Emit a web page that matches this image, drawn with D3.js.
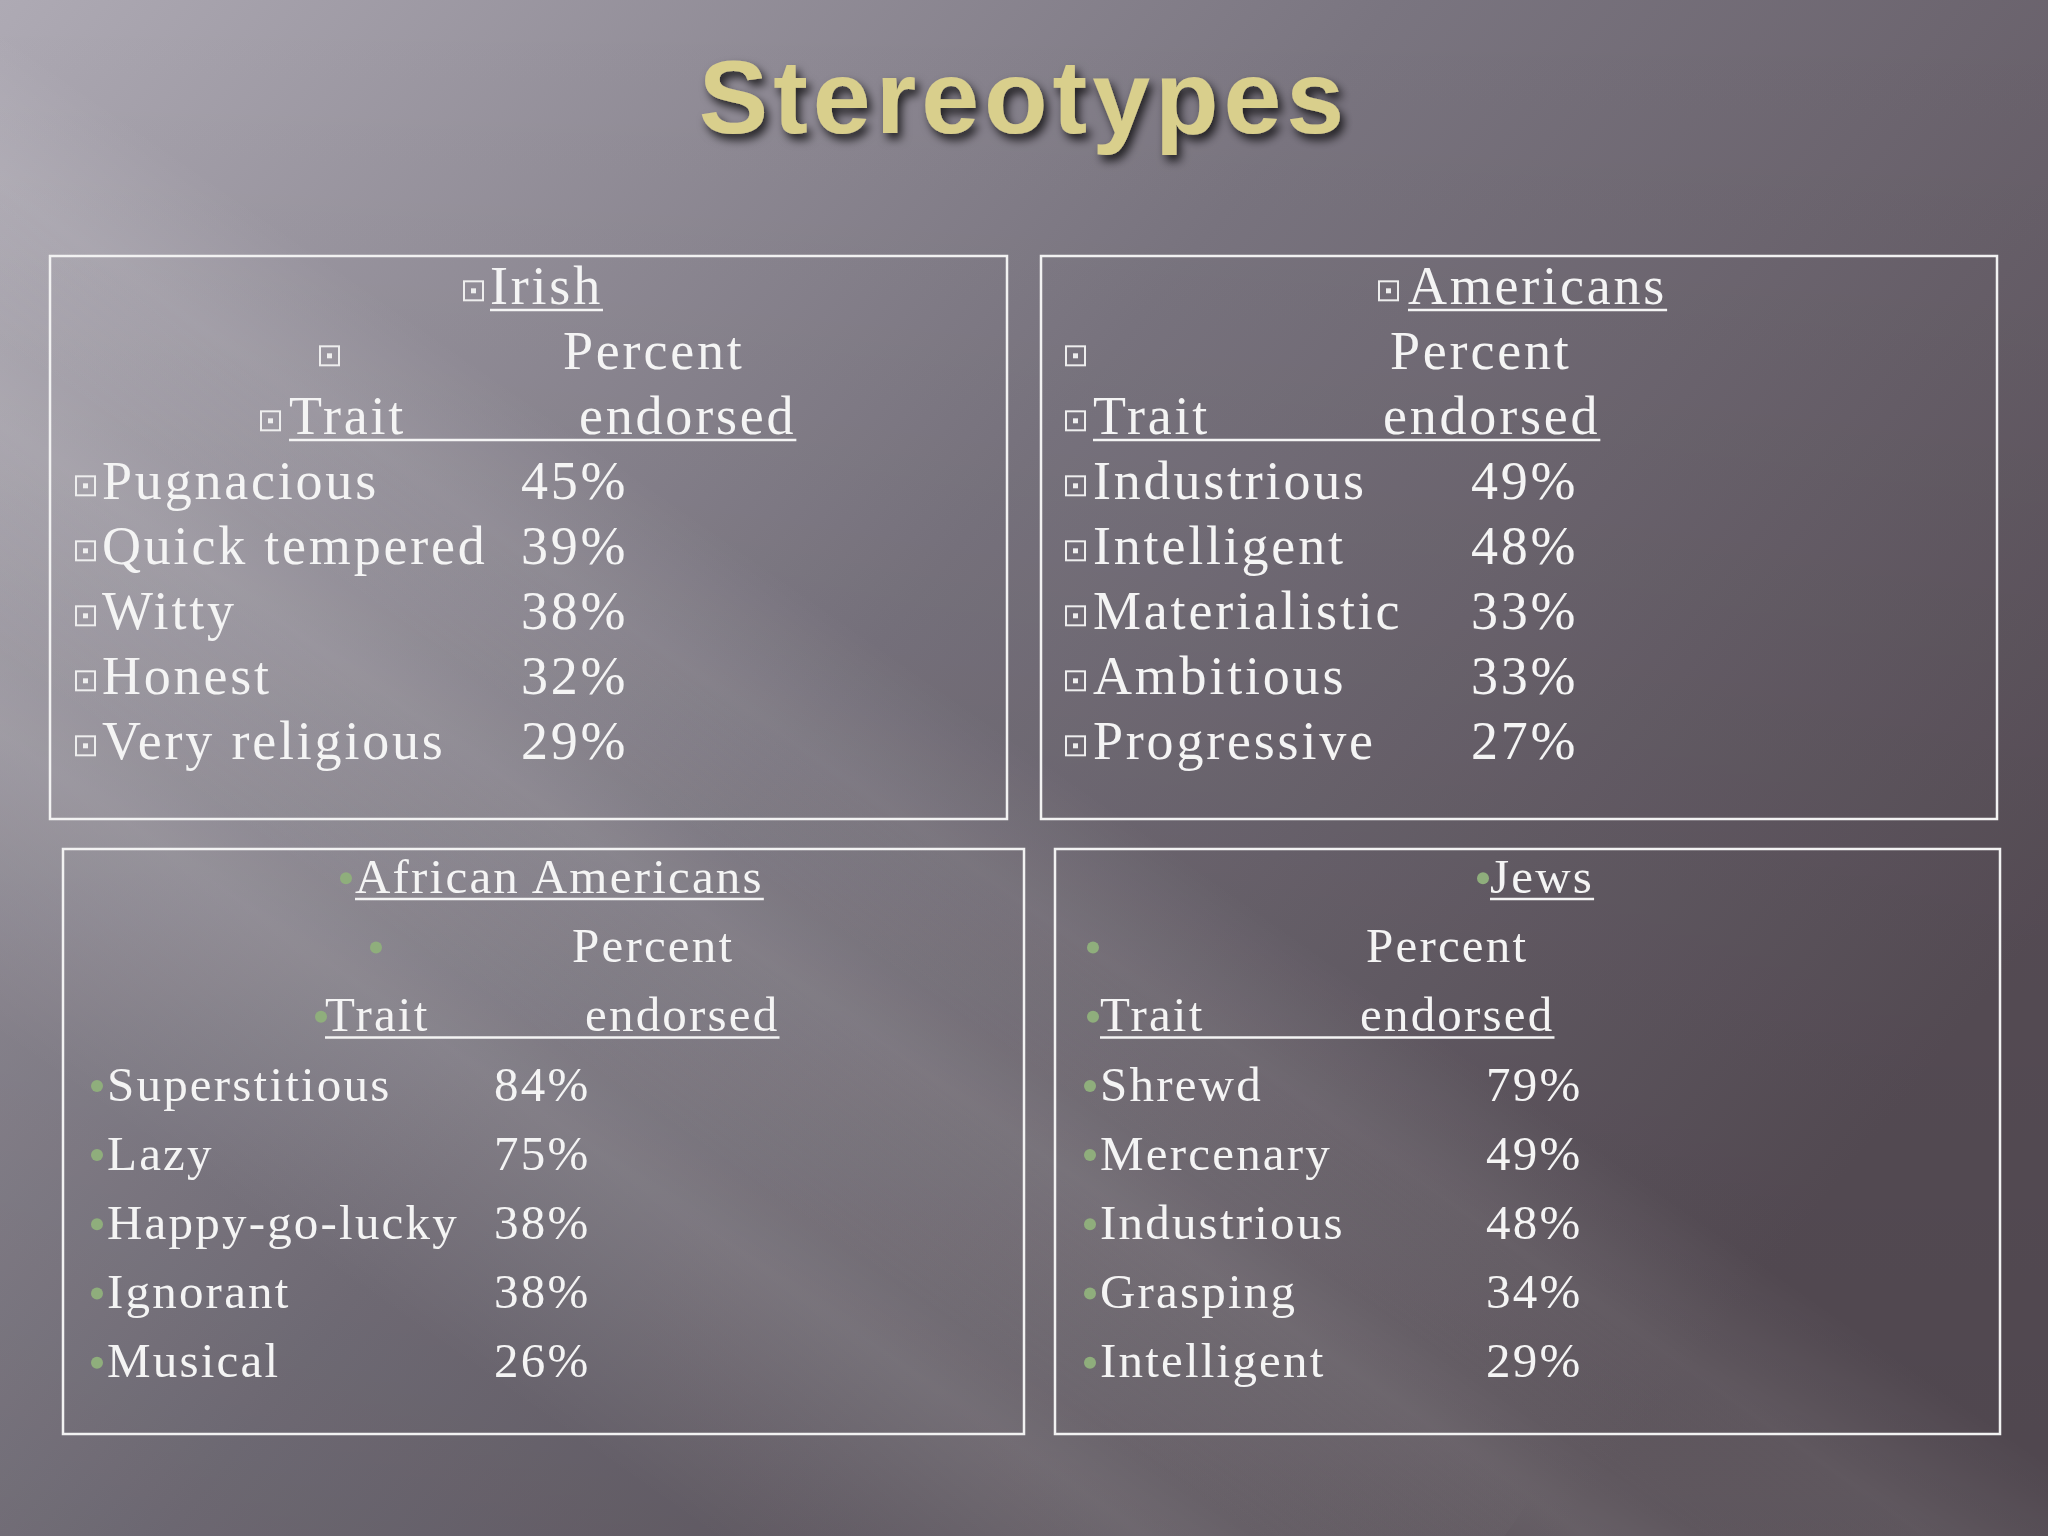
<!DOCTYPE html>
<html><head><meta charset="utf-8">
<script src="https://cdnjs.cloudflare.com/ajax/libs/d3/7.8.5/d3.min.js"></script>
<style>body{margin:0;overflow:hidden}</style></head>
<body><svg id="c" width="2048" height="1536"></svg>
<script>
const title = "Stereotypes";
const groups = ["Irish", "Americans", "African Americans", "Jews"];
const irishTraits = ["Pugnacious", "Quick tempered", "Witty", "Honest", "Very religious"];
const irishValues = [45, 39, 38, 32, 29];
const americanTraits = ["Industrious", "Intelligent", "Materialistic", "Ambitious", "Progressive"];
const americanValues = [49, 48, 33, 33, 27];
const africanTraits = ["Superstitious", "Lazy", "Happy-go-lucky", "Ignorant", "Musical"];
const africanValues = [84, 75, 38, 38, 26];
const jewTraits = ["Shrewd", "Mercenary", "Industrious", "Grasping", "Intelligent"];
const jewValues = [79, 49, 48, 34, 29];
const headerWords = ["Percent", "Trait", "endorsed"];

const svg = d3.select("#c");
const defs = svg.append("defs");
const bg = defs.append("linearGradient").attr("id","bg").attr("x1","0").attr("y1","0").attr("x2","1").attr("y2","0.6");
bg.append("stop").attr("offset","0").attr("stop-color","#aeaab4");
bg.append("stop").attr("offset","0.5").attr("stop-color","#7a7580");
bg.append("stop").attr("offset","1").attr("stop-color","#5a5059");
svg.append("rect").attr("width",2048).attr("height",1536).attr("fill","url(#bg)");
const st = defs.append("linearGradient").attr("id","st").attr("x1","0").attr("y1","0").attr("x2","1").attr("y2","0");
st.append("stop").attr("offset","0").attr("stop-color","#fff").attr("stop-opacity",0);
st.append("stop").attr("offset","0.5").attr("stop-color","#fff").attr("stop-opacity",0.18);
st.append("stop").attr("offset","1").attr("stop-color","#fff").attr("stop-opacity",0);
[[ -200, 500, 0.9],[300, 380, 0.9],[700,260,0.6]].forEach(([x,w,o])=>{
  svg.append("rect").attr("x",x).attr("y",-600).attr("width",w).attr("height",3000)
   .attr("fill","url(#st)").attr("opacity",o).attr("transform",`rotate(-55 ${x+w/2} 768)`);
});
const dk = defs.append("linearGradient").attr("id","dk").attr("x1","0").attr("y1","0").attr("x2","0").attr("y2","1");
dk.append("stop").attr("offset","0").attr("stop-color","#000").attr("stop-opacity",0);
dk.append("stop").attr("offset","1").attr("stop-color","#000").attr("stop-opacity",0.12);
svg.append("rect").attr("width",2048).attr("height",1536).attr("fill","url(#dk)");

const f = defs.append("filter").attr("id","sh").attr("x","-10%").attr("y","-30%").attr("width","130%").attr("height","170%");
f.append("feDropShadow").attr("dx",4).attr("dy",6).attr("stdDeviation",5).attr("flood-color","#000").attr("flood-opacity",0.75);
svg.append("text").text(title).attr("x",1024).attr("y",133).attr("text-anchor","middle")
  .attr("font-family","Liberation Sans, Arial").attr("font-weight","bold").attr("font-size",104)
  .attr("fill","#d9cf8c").attr("filter","url(#sh)").attr("letter-spacing",5);

const panels = [
  {name:groups[0], traits:irishTraits, vals:irishValues, box:[50,256,1007,819], y0:304, step:65, fs:54, ls:2.8, sq:true,
   head:{b:464,t:490}, p:{b:320,t:563}, tr:{b:261,t:289,e:579}, row:{b:76,t:102,v:521}},
  {name:groups[1], traits:americanTraits, vals:americanValues, box:[1041,256,1997,819], y0:304, step:65, fs:54, ls:2.8, sq:true,
   head:{b:1379,t:1408}, p:{b:1066,t:1390}, tr:{b:1066,t:1093,e:1383}, row:{b:1066,t:1093,v:1471}},
  {name:groups[2], traits:africanTraits, vals:africanValues, box:[63,849,1024,1434], y0:893, step:69.2, fs:49, ls:2.2, sq:false,
   head:{b:340,t:355}, p:{b:370,t:572}, tr:{b:315,t:325,e:585}, row:{b:91,t:107,v:494}},
  {name:groups[3], traits:jewTraits, vals:jewValues, box:[1055,849,2000,1434], y0:893, step:69.2, fs:49, ls:2.2, sq:false,
   head:{b:1477,t:1490}, p:{b:1087,t:1366}, tr:{b:1087,t:1100,e:1360}, row:{b:1084,t:1100,v:1486}}
];
const serif = "Liberation Serif, Times New Roman, serif";

panels.forEach(P=>{
  const g = svg.append("g");
  const [x0,y0,x1,y1] = P.box;
  g.append("rect").attr("x",x0).attr("y",y0).attr("width",x1-x0).attr("height",y1-y0)
    .attr("fill","none").attr("stroke","#f2f2f2").attr("stroke-width",2.5);
  const y = d3.scalePoint().domain(d3.range(8)).range([P.y0, P.y0+7*P.step]);
  const bullet = (bx, by) => {
    if (P.sq) {
      g.append("rect").attr("x",bx).attr("y",by-P.fs*0.42).attr("width",19).attr("height",19)
        .attr("fill","none").attr("stroke","#eee").attr("stroke-width",2);
      g.append("rect").attr("x",bx+7).attr("y",by-P.fs*0.42+7).attr("width",5).attr("height",5).attr("fill","#eee");
    } else {
      g.append("circle").attr("cx",bx+6).attr("cy",by-P.fs*0.3).attr("r",6).attr("fill","#8fae7c");
    }
  };
  const txt = (s,x,yy) => g.append("text").text(s).attr("x",x).attr("y",yy)
    .attr("font-family",serif).attr("font-size",P.fs).attr("letter-spacing",P.ls).attr("fill","#f4f4f4");
  const ul = (xa,xb,yy) => g.append("line").attr("x1",xa).attr("x2",xb).attr("y1",yy+6).attr("y2",yy+6)
    .attr("stroke","#f4f4f4").attr("stroke-width",2.5);
  bullet(P.head.b, y(0));
  const h = txt(P.name, P.head.t, y(0));
  ul(P.head.t, P.head.t + h.node().getComputedTextLength(), y(0));
  bullet(P.p.b, y(1));
  txt(headerWords[0], P.p.t, y(1));
  bullet(P.tr.b, y(2));
  txt(headerWords[1], P.tr.t, y(2));
  const e = txt(headerWords[2], P.tr.e, y(2));
  ul(P.tr.t, P.tr.e + e.node().getComputedTextLength(), y(2));
  P.traits.forEach((t,i)=>{
    const yy = y(i+3);
    bullet(P.row.b, yy);
    const l = txt(t, P.row.t, yy);
    const end = P.row.t + l.node().getComputedTextLength();
    txt(P.vals[i]+"%", Math.max(P.row.v, end + (P.sq ? 14 : 2)), yy);
  });
});
</script></body></html>
